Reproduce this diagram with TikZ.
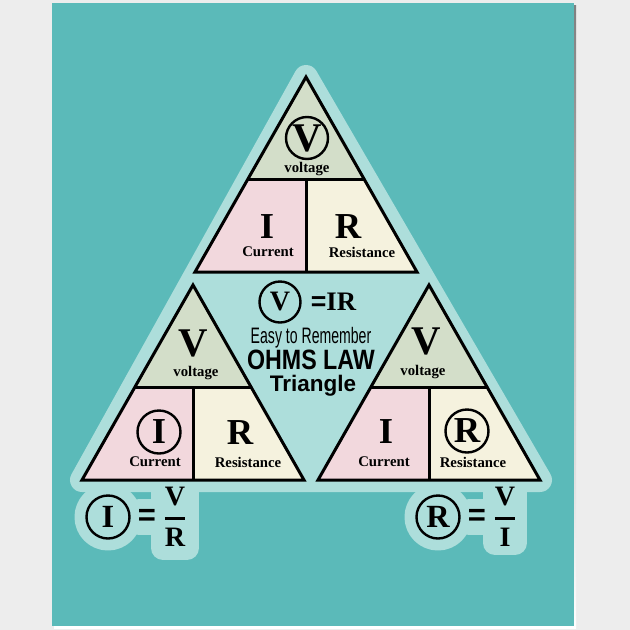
\documentclass[tikz,border=0pt]{standalone}
\usepackage{fontspec}
\usepackage{amsmath}
\setmainfont{Liberation Serif}
\newfontfamily\narrowsf[FakeStretch=0.63]{Liberation Sans}
\newfontfamily\lawsf[FakeStretch=0.83]{Liberation Sans}
\newfontfamily\plainsf{Liberation Sans}
\usetikzlibrary{positioning}

\definecolor{paper}{HTML}{EDEDED}
\definecolor{shade}{HTML}{CFCFCF}
\definecolor{boardteal}{HTML}{5BBAB9}
\definecolor{sticker}{HTML}{ADDEDB}
\definecolor{voltfill}{HTML}{D3DEC9}
\definecolor{currfill}{HTML}{F2D8DD}
\definecolor{resfill}{HTML}{F5F2DE}

\tikzset{
  stickerblob/.style={fill=sticker, draw=sticker, line width=6mm, line join=round},
  part/.style={draw=black, line width=0.75mm, line join=miter},
  circ/.style={draw, circle, line width=0.6mm, inner sep=0pt, minimum size=10.75mm},
  bigV/.style={font=\fontsize{29}{30}\selectfont\bfseries, inner sep=0pt},
  letter/.style={font=\fontsize{26}{28}\selectfont\bfseries, inner sep=0pt},
  tag/.style={font=\fontsize{10.5}{12}\selectfont\bfseries, inner sep=0pt},
  formula/.style={font=\fontsize{20}{22}\selectfont\bfseries, inner sep=0pt},
  eqsign/.style={font=\fontsize{22}{22}\selectfont\plainsf\bfseries, inner sep=0pt}
}

\begin{document}
\begin{tikzpicture}[x=0.25mm, y=-0.25mm]
\fill[paper] (0,0) rectangle (630,630);
\fill[shade] (54,5) rectangle (576,628);
\fill[boardteal] (52,3) rectangle (574,626);

\path[stickerblob] (306,77) -- (82,480) -- (540,480) -- cycle;
\path[stickerblob] (108,517) circle [radius=21.5];
\path[stickerblob] (139,511) rectangle (155,523);
\path[stickerblob] (163,487) rectangle (187,548);
\path[stickerblob] (438,517) circle [radius=21.5];
\path[stickerblob] (469,511) rectangle (485,523);
\path[stickerblob] (495,487) rectangle (515,543);

\foreach \ax/\ay in {306/77, 193/285, 429/285}{
  \fill[voltfill] (\ax,\ay) -- ({\ax-58.1},{\ay+102}) -- ({\ax+58.1},{\ay+102}) -- cycle;
  \fill[currfill] ({\ax-58.1},{\ay+102}) -- (\ax,{\ay+102}) -- (\ax,{\ay+195}) -- ({\ax-111},{\ay+195}) -- cycle;
  \fill[resfill] (\ax,{\ay+102}) -- ({\ax+58.1},{\ay+102}) -- ({\ax+111},{\ay+195}) -- (\ax,{\ay+195}) -- cycle;
  \draw[part] ({\ax-58.1},{\ay+102}) -- ({\ax+58.1},{\ay+102});
  \draw[part] (\ax,{\ay+102}) -- (\ax,{\ay+195});
  \draw[part] (\ax,\ay) -- ({\ax-111},{\ay+195}) -- ({\ax+111},{\ay+195}) -- cycle;
}

\node[circ, bigV, minimum size=10.5mm] (tV) at (307,138) {V};
\node[tag] (tVtag) at (307,169) {voltage};
\node[letter] (tI) at (267,227) {I};
\node[letter] (tR) at (348,227) {R};
\node[tag] (tItag) at (268,252) {Current};
\node[tag] (tRtag) at (362,252) {Resistance};

\node[bigV] (lV) at (193,343) {V};
\node[tag] (lVtag) at (196,373) {voltage};
\node[circ, letter] (lI) at (159,432) {I};
\node[letter] (lR) at (240,433) {R};
\node[tag] (lItag) at (155,462) {Current};
\node[tag] (lRtag) at (248,462) {Resistance};

\node[bigV] (rV) at (426,341) {V};
\node[tag] (rVtag) at (423,372) {voltage};
\node[letter] (rI) at (386,432) {I};
\node[circ, letter] (rR) at (467,431) {R};
\node[tag] (rItag) at (384,462) {Current};
\node[tag] (rRtag) at (473,462) {Resistance};

\node[circ, font=\fontsize{20}{22}\selectfont\bfseries, minimum size=10.25mm] (mV) at (280,302) {V};
\node[font=\fontsize{19}{20}\selectfont\bfseries, inner sep=0pt, right=2.2mm of mV] (mIR) {{\plainsf=}IR};
\node[font=\fontsize{15.9}{17}\selectfont\narrowsf, inner sep=0pt] (easy) at (311,338) {Easy to Remember};
\node[font=\fontsize{19.9}{21}\selectfont\lawsf\bfseries, inner sep=0pt] (law) at (311,360) {OHMS LAW};
\node[font=\fontsize{16}{17}\selectfont\plainsf\bfseries, inner sep=0pt] (tri) at (313,386) {Triangle};

\node[circ, letter, font=\fontsize{23}{24}\selectfont\bfseries] (fI) at (108,517) {I};
\node[eqsign] (fIeq) at (147,517) {=};
\node[formula] (fIfrac) at (175,517) {$\genfrac{}{}{2pt}{0}{\text{V}}{\text{R}}$};
\node[circ, letter, font=\fontsize{23}{24}\selectfont\bfseries] (fR) at (438,517) {R};
\node[eqsign] (fReq) at (477,517) {=};
\node[formula] (fRfrac) at (505,517) {$\genfrac{}{}{2pt}{0}{\text{V}}{\text{I}}$};
\end{tikzpicture}
\end{document}
